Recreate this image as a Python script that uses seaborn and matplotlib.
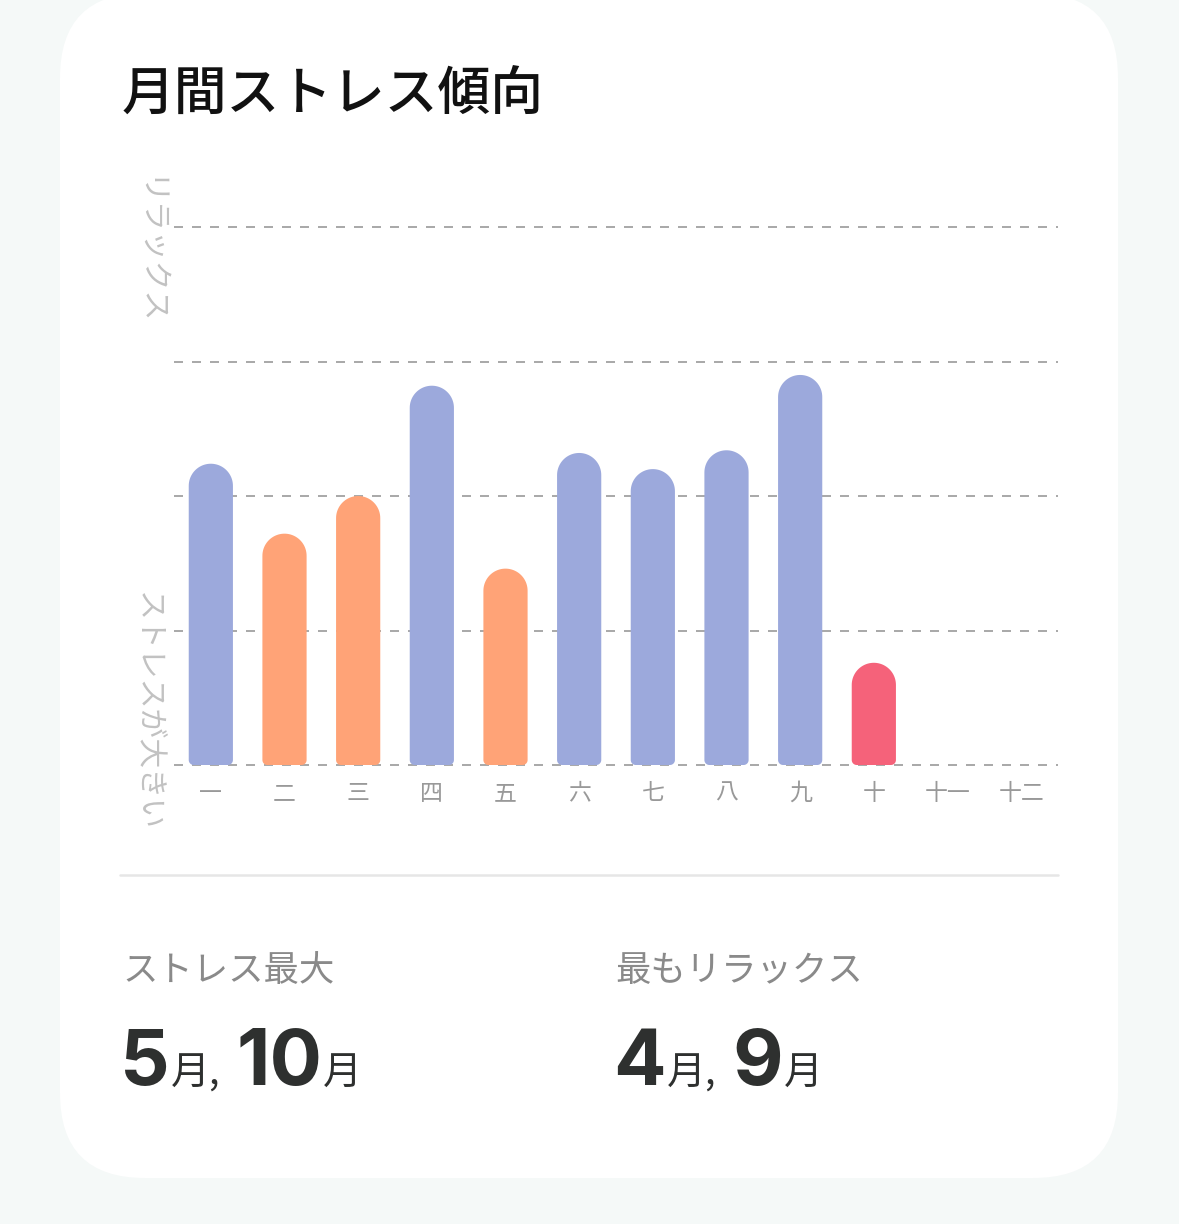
import numpy as np
import pandas as pd
import matplotlib
matplotlib.use("Agg")
import matplotlib.pyplot as plt
import seaborn as sns
from matplotlib.patches import FancyBboxPatch, Polygon
from matplotlib.lines import Line2D

# chart data
months = ["一", "二", "三", "四", "五", "六", "七", "八", "九", "十", "十一", "十二"]
stress = [56, 43, 50, 70.5, 36.5, 58, 55, 58.5, 72.5, 19, np.nan, np.nan]
levels = ["relax", "mid", "mid", "relax", "mid", "relax", "relax", "relax", "relax", "high", "none", "none"]
grid_values = [0, 25, 50, 75, 100]

title = "月間ストレス傾向"
top_label = "リラックス"
bottom_label = "ストレスが大きい"
summary_titles = ["ストレス最大", "最もリラックス"]
summary_values = [[("5", "月"), ("10", "月")], [("4", "月"), ("9", "月")]]

palette = {"relax": "#9ca9dc", "mid": "#ffa377", "high": "#f5627a", "none": "#ffffff"}

W, H = 1179, 1224
BG = "#f5f9f8"

sns.set_theme(style="white")
plt.rcParams["font.family"] = ["Noto Sans CJK JP", "DejaVu Sans"]

fig = plt.figure(figsize=(W / 100, H / 100), dpi=100, facecolor=BG)

# white card behind everything
card = FancyBboxPatch((0.60, (H - 1178) / 100), 11.18 - 0.60, (1178 + 7) / 100,
                      boxstyle="round,pad=0,rounding_size=0.85",
                      transform=fig.dpi_scale_trans, facecolor="white",
                      edgecolor="none", zorder=-1)
fig.patches.append(card)

# plot area
ax_l, ax_r, ax_t, ax_b = 174, 1058, 227, 765
ax = fig.add_axes([ax_l / W, 1 - ax_b / H, (ax_r - ax_l) / W, (ax_b - ax_t) / H])
ax.patch.set_visible(False)

df = pd.DataFrame({"month": months, "stress": stress, "level": levels})
df = df.dropna(subset=["stress"])

sns.barplot(data=df, x="month", y="stress", hue="level", palette=palette,
            order=months, dodge=False, width=0.6, errorbar=None, saturation=1,
            legend=False, ax=ax, zorder=3)

ax.set_xlim(-0.5, len(months) - 0.5)
ax.set_ylim(0, 100)
ax.set_yticks(grid_values)
ax.set_yticklabels([])
ax.yaxis.grid(True, color="#aaaaaa", linestyle=(0, (4.5, 4.5)), linewidth=1.44)
for gl in ax.get_ygridlines():
    gl.set_clip_on(False)
ax.xaxis.grid(False)
ax.set_axisbelow(True)
for s in ax.spines.values():
    s.set_visible(False)
ax.set_xlabel("")
ax.set_ylabel("")
ax.tick_params(axis="both", length=0)
ax.tick_params(axis="x", pad=12, labelsize=16.5, labelcolor="#999999")

# swap the flat bars for pill-topped ones (round in pixels, not data units)
px_x = ax.transData.transform((1, 0))[0] - ax.transData.transform((0, 0))[0]
px_y = ax.transData.transform((0, 1))[1] - ax.transData.transform((0, 0))[1]
for p in list(ax.patches):
    h = p.get_height()
    if not np.isfinite(h) or h <= 0:
        p.set_visible(False)
        continue
    x, w = p.get_x(), p.get_width()
    color = p.get_facecolor()
    p.set_visible(False)
    rx = w / 2
    ry = rx * px_x / px_y
    sx, sy = 5 / px_x, 5 / px_y
    t = np.linspace(0, np.pi / 2, 12)
    pts = []
    pts += list(zip(x + sx - sx * np.cos(t), sy - sy * np.sin(t)))          # bottom-left
    pts += list(zip(x + w - sx + sx * np.sin(t), sy - sy * np.cos(t)))      # bottom-right
    a = np.linspace(0, np.pi, 40)
    pts += list(zip(x + rx + rx * np.cos(a), h - ry + ry * np.sin(a)))      # round top
    ax.add_patch(Polygon(pts, closed=True, facecolor=color, edgecolor="none", zorder=3))

# vertical axis captions
fig.text(148 / W, 1 - 177 / H, top_label, rotation=270, ha="center", va="top",
         fontsize=21.5, color="#c2c2c2")
fig.text(148 / W, 1 - 830 / H, bottom_label, rotation=270, ha="center", va="bottom",
         fontsize=21.5, color="#c2c2c2")

# title
fig.text(122 / W, 1 - 96 / H, title, ha="left", va="center", fontsize=38,
         fontweight="medium", color="#111111")

# separator
fig.add_artist(Line2D([120 / W, 1058 / W], [1 - 875 / H] * 2, transform=fig.transFigure,
                      color="#e6e6e6", linewidth=1.8))

# summary block
renderer = fig.canvas.get_renderer()
for col_x, head, vals in zip([122, 615], summary_titles, summary_values):
    fig.text(col_x / W, 1 - 971 / H, head, ha="left", va="center", fontsize=25.5,
             color="#8a8a8a")
    x = col_x - 2
    base = 1 - 1085 / H
    for i, (num, unit) in enumerate(vals):
        t = fig.text(x / W, base, num, ha="left", va="baseline", fontsize=56,
                     fontweight="bold", color="#2e302f", family=["Inter", "DejaVu Sans"])
        x = t.get_window_extent(renderer).x1 + 1
        u = unit + ("," if i < len(vals) - 1 else "")
        t = fig.text(x / W, base, u, ha="left", va="baseline", fontsize=28,
                     color="#2e302f")
        x = t.get_window_extent(renderer).x1 + 16

fig.savefig("out.png", dpi=100, facecolor=BG)
